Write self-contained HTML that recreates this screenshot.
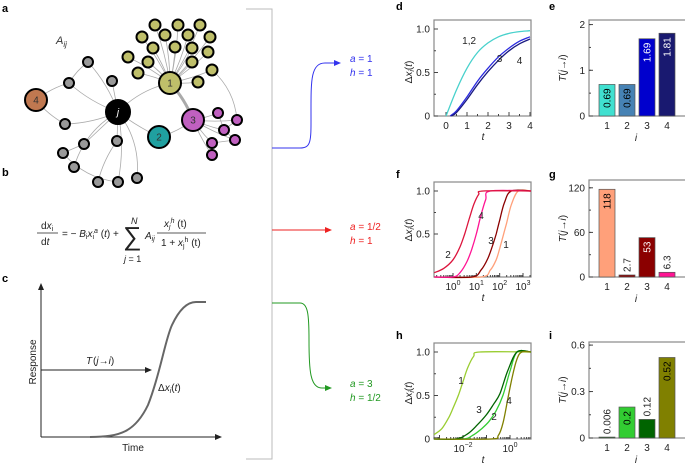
<!DOCTYPE html>
<html><head><meta charset="utf-8"><style>
html,body{margin:0;padding:0;background:#fff;}
svg{display:block;font-family:"Liberation Sans",sans-serif;}
.tk{font-size:10px;fill:#222;}
.pl{font-size:11px;font-weight:bold;fill:#000;}
</style></head><body>
<svg id="fig" width="685" height="469" viewBox="0 0 685 469" xmlns="http://www.w3.org/2000/svg">
<g id="net"></g>
<text class="pl" x="2" y="12">a</text>
<text x="56" y="44" font-size="11" font-style="italic" fill="#333">A<tspan font-size="8" dy="3">ij</tspan></text>

<text class="pl" x="2" y="176">b</text>
<g font-size="10" fill="#222">
<text x="41" y="229">d<tspan font-style="italic">x</tspan><tspan font-size="7" dy="2">i</tspan></text>
<line x1="37" y1="233" x2="58" y2="233" stroke="#222" stroke-width="0.8"/>
<text x="41" y="245">d<tspan font-style="italic">t</tspan></text>
<text x="62" y="237">= − <tspan font-style="italic">B</tspan><tspan font-size="7" dy="2">i</tspan><tspan dy="-2" font-style="italic">x</tspan><tspan font-size="7" dy="2">i</tspan><tspan font-size="7" font-style="italic" dy="-6">a</tspan><tspan dy="4"> (</tspan><tspan font-style="italic">t</tspan>) +</text>
<text x="123" y="245" font-size="26">∑</text>
<text x="131" y="224" font-style="italic" font-size="9">N</text>
<text x="124" y="262" font-size="9"><tspan font-style="italic">j</tspan> = 1</text>
<text x="145" y="239" font-style="italic">A<tspan font-size="7" dy="2">ij</tspan></text>
<text x="164" y="227" font-style="italic">x<tspan font-size="7" dy="2">j</tspan><tspan font-size="7" dy="-6">h</tspan><tspan font-style="normal" dy="4"> (t)</tspan></text>
<line x1="157" y1="233" x2="206" y2="233" stroke="#222" stroke-width="0.8"/>
<text x="161" y="246">1 + <tspan font-style="italic">x</tspan><tspan font-size="7" dy="2">j</tspan><tspan font-size="7" dy="-6">h</tspan><tspan dy="4"> (t)</tspan></text>
</g>

<text class="pl" x="2" y="282">c</text>
<g>
<line x1="41" y1="437" x2="41" y2="287" stroke="#222" stroke-width="1"/>
<path d="M41,283 L38,290 L44,290Z" fill="#222"/>
<line x1="41" y1="437" x2="217" y2="437" stroke="#222" stroke-width="1"/>
<path d="M222,437 L215,434 L215,440Z" fill="#222"/>
<text x="36" y="362" font-size="10" fill="#222" transform="rotate(-90 36 362)" text-anchor="middle">Response</text>
<text x="133" y="451" font-size="10" fill="#222" text-anchor="middle">Time</text>
<path d="M90,437 C120,437 135,432 148,405 C160,375 165,340 172,325 C180,308 188,302 196,302 L206,302" fill="none" stroke="#666" stroke-width="2"/>
<line x1="41" y1="370" x2="146" y2="370" stroke="#222" stroke-width="1"/>
<path d="M152,370 L145,367 L145,373Z" fill="#222"/>
<text x="86" y="364" font-size="10" font-style="italic" fill="#222">T</text>
<text x="93" y="364" font-size="10" fill="#222">(<tspan font-style="italic">j</tspan>→<tspan font-style="italic">i</tspan>)</text>
<text x="158" y="391" font-size="10" fill="#222">Δ<tspan font-style="italic">x</tspan><tspan font-size="7" dy="2" font-style="italic">i</tspan><tspan dy="-2">(</tspan><tspan font-style="italic">t</tspan>)</text>
</g>

<g fill="none" stroke="#bbb" stroke-width="1">
<path d="M246,9 L272,9 L272,459 L246,459"/>
</g>
<g>
<path d="M272,148 L300,148 C312,148 311,140 311,110 C311,80 311,63 325,63 L336,63" fill="none" stroke="#3333ee" stroke-width="1"/>
<path d="M341,63 L334,60 L334,66Z" fill="#3333ee"/>
</g>
<g>
<line x1="272" y1="230" x2="327" y2="230" stroke="#ee2222" stroke-width="1"/>
<path d="M332,230 L325,227 L325,233Z" fill="#ee2222"/>
</g>
<g>
<path d="M272,303 L300,303 C308,303 309,315 309,340 C309,370 310,388 322,388 L327,388" fill="none" stroke="#229922" stroke-width="1"/>
<path d="M332,388 L325,385 L325,391Z" fill="#229922"/>
</g>
<g font-size="10">
<text x="350" y="62" fill="#3333ee"><tspan font-style="italic">a</tspan> = 1</text>
<text x="350" y="76" fill="#3333ee"><tspan font-style="italic">h</tspan> = 1</text>
<text x="350" y="230" fill="#ee2222"><tspan font-style="italic">a</tspan> = 1/2</text>
<text x="350" y="244" fill="#ee2222"><tspan font-style="italic">h</tspan> = 1</text>
<text x="350" y="387" fill="#229922"><tspan font-style="italic">a</tspan> = 3</text>
<text x="350" y="401" fill="#229922"><tspan font-style="italic">h</tspan> = 1/2</text>
</g>
<g id="charts"></g>
</svg>
<script>
// ---------- chart data ----------
// panel d (linear t)
var dT = [0, 0.5, 1, 1.5, 2, 2.5, 3, 3.5, 4];
var dS12 = [0, 0.3, 0.55, 0.73, 0.84, 0.91, 0.95, 0.97, 0.98];
var dT3 = [0.2, 0.5, 1, 1.5, 2, 2.5, 3, 3.5, 4];
var dS3 = [0, 0.06, 0.22, 0.4, 0.55, 0.68, 0.78, 0.86, 0.91];
var dT4 = [0.25, 0.5, 1, 1.5, 2, 2.5, 3, 3.5, 4];
var dS4 = [0, 0.04, 0.19, 0.36, 0.51, 0.64, 0.75, 0.83, 0.885];
var dXTicks = [0, 1, 2, 3, 4];
var dYTicks = [0, 0.5, 1.0];
var dYLabels = ["0", "0.5", "1.0"];
// panel e
var eCats = ["1", "2", "3", "4"];
var eVals = [0.69, 0.69, 1.69, 1.81];
var eLabels = ["0.69", "0.69", "1.69", "1.81"];
var eYTicks = [0, 1, 2];
// panel f (log10 t)
var fLogT2 = [-0.8, -0.4, 0, 0.3, 0.5, 0.7, 0.9, 1.1, 1.3, 3.34];
var fS2 = [0.05, 0.1, 0.2, 0.35, 0.5, 0.68, 0.85, 0.96, 1, 1];
var fLogT4 = [-0.8, 0, 0.3, 0.6, 0.8, 1.0, 1.2, 1.4, 1.6, 3.34];
var fS4 = [0, 0, 0.05, 0.18, 0.32, 0.5, 0.72, 0.9, 1, 1];
var fLogT3 = [-0.8, 0.8, 1.2, 1.5, 1.7, 1.85, 2.0, 2.2, 2.5, 3.34];
var fS3 = [0, 0, 0.08, 0.22, 0.37, 0.5, 0.66, 0.86, 1, 1];
var fLogT1 = [-0.8, 1.2, 1.6, 1.85, 2.0, 2.15, 2.3, 2.5, 2.8, 3.34];
var fS1 = [0, 0, 0.08, 0.2, 0.33, 0.48, 0.63, 0.84, 1, 1];
var fXTicks = [0, 1, 2, 3];
var fYTicks = [0.5, 1.0];
var fYLabels = ["0.5", "1.0"];
// panel g
var gCats = ["1", "2", "3", "4"];
var gVals = [118, 2.7, 53, 6.3];
var gLabels = ["118", "2.7", "53", "6.3"];
var gYTicks = [0, 60, 120];
// panel h (log10 t)
var hLogT1 = [-3.23, -2.9, -2.6, -2.4, -2.2, -2.0, -1.8, -1.55, -1.28, 0.89];
var hS1 = [0.05, 0.12, 0.25, 0.37, 0.5, 0.66, 0.82, 0.95, 1, 1];
var hLogT3 = [-3.23, -2.3, -1.8, -1.4, -1.0, -0.7, -0.43, -0.1, 0.3, 0.89];
var hS3 = [0, 0, 0.06, 0.16, 0.28, 0.4, 0.52, 0.78, 1, 1];
var hLogT2 = [-3.23, -2.0, -1.6, -1.2, -0.9, -0.6, -0.3, 0.0, 0.3, 0.89];
var hS2 = [0, 0, 0.04, 0.12, 0.2, 0.32, 0.5, 0.78, 1, 1];
var hLogT4 = [-3.23, -0.8, -0.5, -0.3, -0.1, 0.1, 0.3, 0.5, 0.89];
var hS4 = [0, 0, 0.04, 0.18, 0.45, 0.72, 0.92, 1, 1];
var hXTicks = [-2, 0];
var hYTicks = [0, 0.5, 1.0];
var hYLabels = ["0", "0.5", "1.0"];
// panel i
var iCats = ["1", "2", "3", "4"];
var iVals = [0.006, 0.2, 0.12, 0.52];
var iLabels = ["0.006", "0.2", "0.12", "0.52"];
var iYTicks = [0, 0.3, 0.6];
var iYLabels = ["0", "0.3", "0.6"];

var NS = "http://www.w3.org/2000/svg";
var root = document.getElementById('charts');
function mk(tag, attrs, parent) {
  var e = document.createElementNS(NS, tag);
  for (var k in attrs) e.setAttribute(k, attrs[k]);
  (parent || root).appendChild(e);
  return e;
}
function lin(d0, d1, r0, r1) { return function (v) { return r0 + (v - d0) / (d1 - d0) * (r1 - r0); }; }
function smoothPath(xs, ys, fx, fy) {
  var p = xs.map(function (x, i) { return [fx(x), fy(ys[i])]; });
  var d = "M" + p[0][0].toFixed(1) + "," + p[0][1].toFixed(1);
  for (var i = 0; i < p.length - 1; i++) {
    var p0 = p[Math.max(0, i - 1)], p1 = p[i], p2 = p[i + 1], p3 = p[Math.min(p.length - 1, i + 2)];
    var c1x = p1[0] + (p2[0] - p0[0]) / 6, c1y = p1[1] + (p2[1] - p0[1]) / 6;
    var c2x = p2[0] - (p3[0] - p1[0]) / 6, c2y = p2[1] - (p3[1] - p1[1]) / 6;
    d += " C" + c1x.toFixed(1) + "," + c1y.toFixed(1) + " " + c2x.toFixed(1) + "," + c2y.toFixed(1) + " " + p2[0].toFixed(1) + "," + p2[1].toFixed(1);
  }
  return d;
}
function frame(b, g) {
  var r = mk('rect', { x: b.x0, y: b.y0, width: b.x1 - b.x0, height: b.y1 - b.y0, fill: 'none', stroke: '#888', 'stroke-width': 1.2 }, g);
  
  
}
function yAxis(b, fy, ticks, labels, g, minorStep) {
  ticks.forEach(function (t, i) {
    var y = fy(t);
    mk('line', { x1: b.x0, x2: b.x0 + 4, y1: y, y2: y, stroke: '#444' }, g);
    var tx = mk('text', { x: b.x0 - 4, y: y + 3.5, 'text-anchor': 'end', 'class': 'tk' }, g);
    tx.textContent = labels[i];
    
    
  });
  if (minorStep) {
    for (var v = ticks[0]; v <= ticks[ticks.length - 1] + 1e-9; v += minorStep) {
      var y = fy(v);
      mk('line', { x1: b.x0, x2: b.x0 + 2, y1: y, y2: y, stroke: '#444' }, g);
    }
  }
}
function yTitle(x, y, g) {
  var t = mk('text', { x: x, y: y, 'font-size': 10, fill: '#222', 'text-anchor': 'middle', transform: 'rotate(-90 ' + x + ' ' + y + ')' }, g);
  t.innerHTML = 'Δ<tspan font-style="italic">x</tspan><tspan font-size="7" font-style="italic" dy="2">i</tspan><tspan dy="-2">(</tspan><tspan font-style="italic">t</tspan>)';
  
  
}
function tTitle(x, y, g) {
  var t = mk('text', { x: x, y: y, 'font-size': 10, fill: '#222', 'text-anchor': 'middle', transform: 'rotate(-90 ' + x + ' ' + y + ')' }, g);
  t.innerHTML = '<tspan font-style="italic">T</tspan>(<tspan font-style="italic">j</tspan>→<tspan font-style="italic">i</tspan>)';
  
  
}
function xTitle(x, y, txt, g) {
  var t = mk('text', { x: x, y: y, 'font-size': 10, 'font-style': 'italic', fill: '#222', 'text-anchor': 'middle' }, g);
  t.textContent = txt;
  
  
}
function panelLabel(x, y, txt) {
  var t = mk('text', { x: x, y: y, 'class': 'pl' });
  t.textContent = txt;
  
  
}
function series(xs, ys, fx, fy, col, name, g) {
  var p = mk('path', { d: smoothPath(xs, ys, fx, fy), fill: 'none', stroke: col, 'stroke-width': 1.3 }, g);
  
  
}
function note(x, y, txt, g) {
  var t = mk('text', { x: x, y: y, 'class': 'tk', 'text-anchor': 'middle' }, g);
  t.textContent = txt;
  
  
}
function logXAxis(b, fx, ticks, g, lo, hi) {
  for (var d = Math.floor(lo); d <= Math.ceil(hi); d++) {
    for (var m = 1; m < 10; m++) {
      var lv = d + Math.log10(m);
      if (lv < lo || lv > hi) continue;
      var x = fx(lv);
      mk('line', { x1: x, x2: x, y1: b.y1, y2: b.y1 - (m === 1 ? 4 : 2), stroke: '#444' }, g);
    }
  }
  ticks.forEach(function (t) {
    var tx = mk('text', { x: fx(t), y: b.y1 + 13, 'class': 'tk', 'text-anchor': 'middle' }, g);
    tx.innerHTML = '10<tspan font-size="7" dy="-5">' + (t < 0 ? '−' + (-t) : t) + '</tspan>';
    
    
  });
}
function barChart(b, cats, vals, labels, yt, ylab, ymax, colors, inside, txtCol, name) {
  var g = mk('g', {});
  
  
  var fy = lin(0, ymax, b.y1, b.y0);
  var step = 20, first = 607;
  frame(b, g);
  yAxis(b, fy, yt, ylab, g, (yt[1] - yt[0]) / 2);
  cats.forEach(function (c, i) {
    var cx = first + i * step;
    var y = fy(vals[i]);
    var r = mk('rect', { x: cx - 8, y: y, width: 16, height: b.y1 - y, fill: colors[i], stroke: '#555', 'stroke-width': 0.7 }, g);
    
    
    var tl = mk('text', { x: cx, y: b.y1 + 13, 'class': 'tk', 'text-anchor': 'middle' }, g);
    tl.textContent = c;
    
    
    var vx = cx + 3.5, vy;
    var t;
    if (inside[i]) {
      vy = y + 4;
      t = mk('text', { x: vx, y: vy, 'font-size': 10, fill: txtCol[i], 'text-anchor': 'end', transform: 'rotate(-90 ' + vx + ' ' + vy + ')' }, g);
    } else {
      vy = y - 3;
      t = mk('text', { x: vx, y: vy, 'font-size': 10, fill: '#222', 'text-anchor': 'start', transform: 'rotate(-90 ' + vx + ' ' + vy + ')' }, g);
    }
    t.textContent = labels[i];
    
    
  });
  tTitle(566, (b.y0 + b.y1) / 2, g);
  xTitle(636, b.y1 + 25, 'i', g);
  return g;
}

// ----- d -----
(function () {
  var b = { x0: 434, x1: 531, y0: 20, y1: 116 };
  var g = mk('g', {});
  
  
  var fx = lin(0, 4, 446, 530), fy = lin(0, 1, 116, 29);
  frame(b, g);
  yAxis(b, fy, dYTicks, dYLabels, g, 0.25);
  dXTicks.forEach(function (t) {
    mk('line', { x1: fx(t), x2: fx(t), y1: b.y1, y2: b.y1 - 4, stroke: '#444' }, g);
    if (fx(t + 0.5) < b.x1) mk('line', { x1: fx(t + 0.5), x2: fx(t + 0.5), y1: b.y1, y2: b.y1 - 2, stroke: '#444' }, g);
    var tx = mk('text', { x: fx(t), y: b.y1 + 13, 'class': 'tk', 'text-anchor': 'middle' }, g);
    tx.textContent = t;
    
    
  });
  series(dT, dS12, fx, fy, '#48d1cc', 'series-1-2', g);
  series(dT3, dS3, fx, fy, '#2a2ae0', 'series-3', g);
  series(dT4, dS4, fx, fy, '#1a1a80', 'series-4', g);
  note(fx(1.1), fy(0.83), '1,2', g);
  note(fx(2.55), fy(0.62), '3', g);
  note(fx(3.5), fy(0.6), '4', g);
  yTitle(412, 72, g);
  xTitle(483, 140, 't', g);
})();
panelLabel(396, 10, 'd');
barChart({ x0: 589, x1: 686, y0: 20, y1: 116 }, eCats, eVals, eLabels, eYTicks, ["0", "1", "2"], 2.1,
  ['#40e0d0', '#4682b4', '#0000cd', '#191970'], [true, true, true, true], ['#000', '#000', '#fff', '#fff'], 'chart-e');
panelLabel(549, 10, 'e');

// ----- f -----
(function () {
  var b = { x0: 434, x1: 531, y0: 182, y1: 277 };
  var g = mk('g', {});
  
  
  var fx = lin(0, 3, 453, 523), fy = lin(0, 1, 277, 191);
  frame(b, g);
  yAxis(b, fy, fYTicks, fYLabels, g, 0.25);
  logXAxis(b, fx, fXTicks, g, -0.8, 3.34);
  series(fLogT1, fS1, fx, fy, '#ffa07a', 'series-1', g);
  series(fLogT3, fS3, fx, fy, '#8b0000', 'series-3', g);
  series(fLogT4, fS4, fx, fy, '#ff1493', 'series-4', g);
  series(fLogT2, fS2, fx, fy, '#dc143c', 'series-2', g);
  note(448, 258, '2', g);
  note(481, 219, '4', g);
  note(491, 244, '3', g);
  note(506, 248, '1', g);
  yTitle(412, 230, g);
  xTitle(483, 301, 't', g);
})();
panelLabel(396, 178, 'f');
barChart({ x0: 589, x1: 686, y0: 180, y1: 277 }, gCats, gVals, gLabels, gYTicks, ["0", "60", "120"], 130.5,
  ['#ffa07a', '#8b0000', '#8b0000', '#ff1493'], [true, false, true, false], ['#000', '#000', '#fff', '#000'], 'chart-g');
panelLabel(549, 178, 'g');

// ----- h -----
(function () {
  var b = { x0: 434, x1: 531, y0: 343, y1: 439 };
  var g = mk('g', {});
  
  
  var fx = lin(-2, 0, 463, 510), fy = lin(0, 1, 439, 352);
  frame(b, g);
  yAxis(b, fy, hYTicks, hYLabels, g, 0.25);
  logXAxis(b, fx, hXTicks, g, -3.23, 0.89);
  series(hLogT1, hS1, fx, fy, '#9acd32', 'series-1', g);
  series(hLogT2, hS2, fx, fy, '#32cd32', 'series-2', g);
  series(hLogT3, hS3, fx, fy, '#006400', 'series-3', g);
  series(hLogT4, hS4, fx, fy, '#808000', 'series-4', g);
  note(461, 384, '1', g);
  note(479, 413, '3', g);
  note(494, 420, '2', g);
  note(509, 404, '4', g);
  yTitle(412, 393, g);
  xTitle(483, 463, 't', g);
})();
panelLabel(396, 339, 'h');
barChart({ x0: 589, x1: 686, y0: 342, y1: 438 }, iCats, iVals, iLabels, iYTicks, iYLabels, 0.62,
  ['#006400', '#32cd32', '#006400', '#808000'], [false, true, false, true], ['#000', '#000', '#000', '#000'], 'chart-i');
panelLabel(549, 339, 'i');

// ---------- network ----------
(function () {
  var net = document.getElementById('net');
  function n(tag, a) { var e = document.createElementNS(NS, tag); for (var k in a) e.setAttribute(k, a[k]); net.appendChild(e); return e; }
  var J = [118, 112], N1 = [170, 83], N2 = [159, 137], N3 = [193, 120], N4 = [36, 100];
  var gray = [[88, 62], [69, 83], [112, 81], [65, 124], [84, 144], [117, 141], [63, 153], [74, 167], [98, 182], [118, 182], [137, 178]];
  var olive = [[155, 25], [178, 25], [200, 25], [142, 37], [165, 35], [188, 35], [210, 37], [128, 57], [153, 48], [175, 47], [192, 48], [208, 52], [148, 62], [192, 62], [212, 70], [138, 73], [198, 82]];
  var purple = [[218, 113], [237, 120], [224, 130], [212, 143], [235, 140], [212, 155]];
  function edge(a, b, bend, w) {
    var mx = (a[0] + b[0]) / 2, my = (a[1] + b[1]) / 2;
    var dx = b[0] - a[0], dy = b[1] - a[1];
    var cx = mx - dy * bend, cy = my + dx * bend;
    var e = n('path', { d: 'M' + a + ' Q' + cx + ',' + cy + ' ' + b, fill: 'none', stroke: '#aaa', 'stroke-width': w || 0.8 });
    
    
  }
  edge(J, [88, 62], 0.1); edge([88, 62], [69, 83], 0.1); edge(J, [112, 81], 0); edge([69, 83], J, 0.1);
  edge([69, 83], N4, 0.1); edge(N4, [65, 124], 0.1); edge([65, 124], J, 0.1); edge(J, N1, -0.15);
  edge(J, N2, 0.05); edge(N2, N3, 0.1); edge(J, [84, 144], 0); edge(J, [117, 141], 0);
  edge([84, 144], [63, 153], 0); edge(J, [74, 167], 0.2); edge([63, 153], [118, 182], 0.2);
  edge([117, 141], [98, 182], 0.1); edge(J, [137, 178], -0.2); edge(J, [118, 182], -0.1);
  edge(N1, N3, -0.1, 3);
  olive.forEach(function (p) { edge(N1, p, 0.05); });
  edge([212, 70], [237, 120], -0.2);
  purple.forEach(function (p) { edge(N3, p, 0.05); });
  edge([218, 113], [224, 130], 0); edge([224, 130], [235, 140], 0); edge([212, 143], [235, 140], 0); edge([237, 120], [224, 130], 0);
  function node(p, r, fill, name) {
    var c = n('circle', { cx: p[0], cy: p[1], r: r, fill: fill, stroke: '#000', 'stroke-width': 2 });
    
    
  }
  gray.forEach(function (p) { node(p, 5, '#999', 'gray-node'); });
  olive.forEach(function (p) { node(p, 5.5, '#bfbf6a', 'olive-node'); });
  purple.forEach(function (p) { node(p, 5, '#c060c0', 'purple-node'); });
  node(N4, 11, '#c07850', 'node-4'); node(N1, 11, '#bfbf6a', 'node-1'); node(N2, 11, '#20a0a0', 'node-2'); node(N3, 11, '#c060c0', 'node-3'); node(J, 12, '#000', 'node-j');
  function lab(p, t, col, it) {
    var e = n('text', { x: p[0], y: p[1] + 3.5, 'text-anchor': 'middle', 'font-size': 10, fill: col });
    if (it) e.setAttribute('font-style', 'italic');
    e.textContent = t;
    
    
  }
  lab(N1, '1', '#333'); lab(N2, '2', '#333'); lab(N3, '3', '#333'); lab(N4, '4', '#333'); lab(J, 'j', '#fff', true);
})();
</script>
</body></html>
